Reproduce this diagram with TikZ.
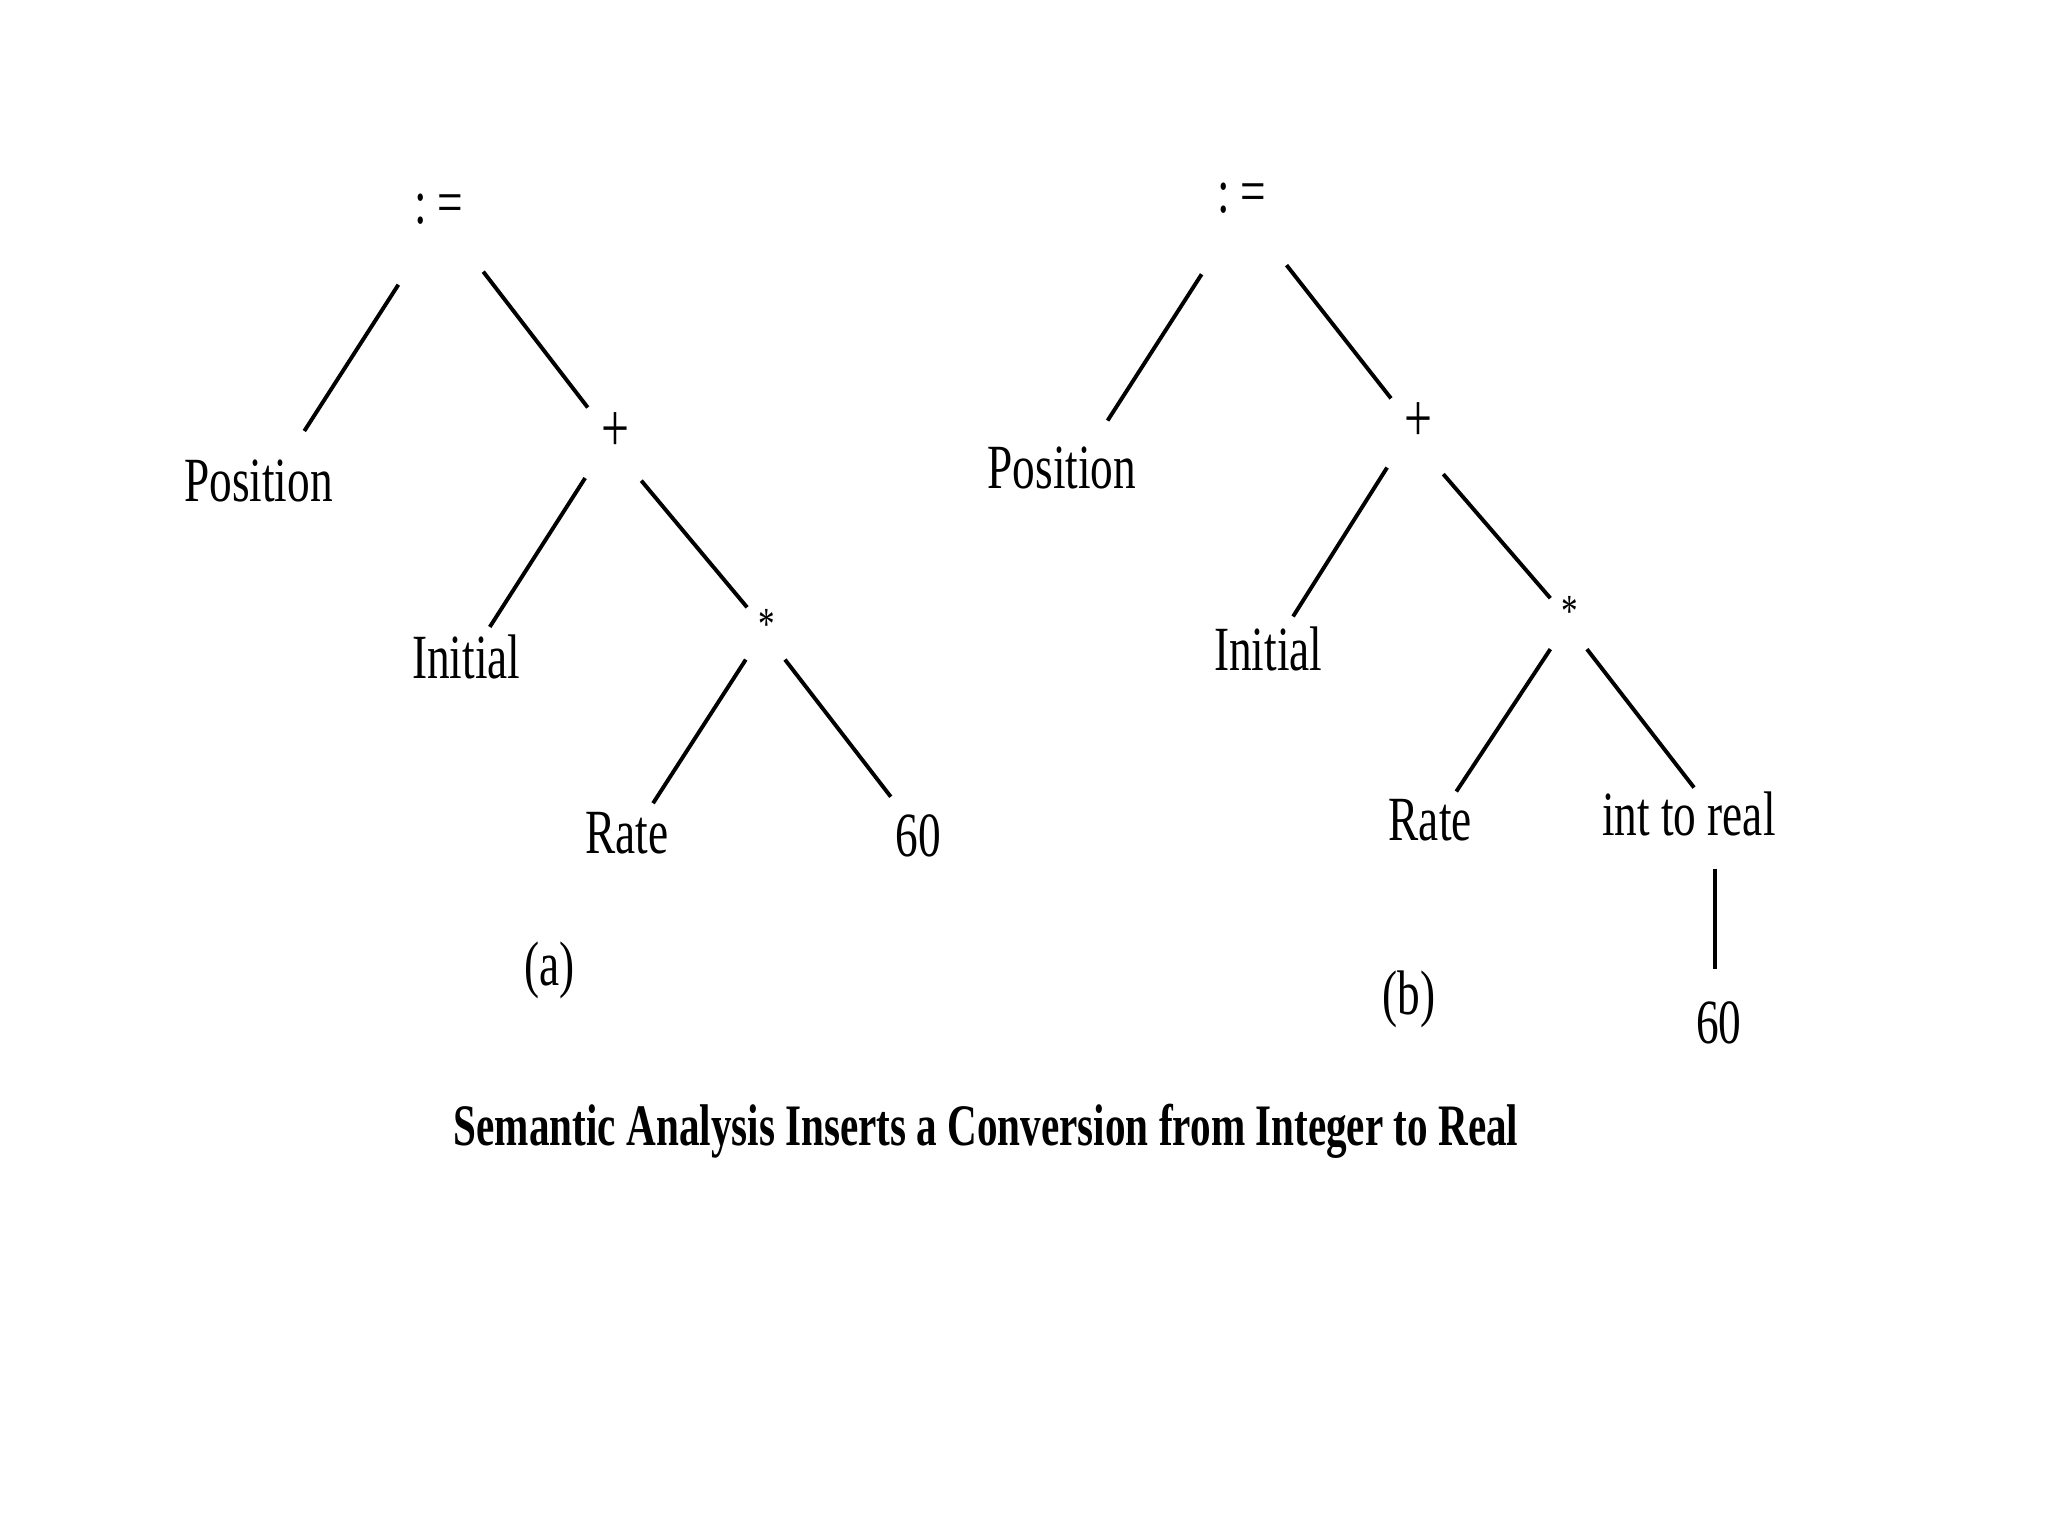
\documentclass[tikz,border=0pt]{standalone}
\usepackage{fontspec}
\usetikzlibrary{calc}
\newfontfamily\lblfont[FakeStretch=0.72]{Liberation Serif}
\newfontfamily\capfont[FakeStretch=0.70]{Liberation Serif}
\begin{document}
\begin{tikzpicture}[x=0.01cm,y=-0.01cm,
  lbl/.style={inner sep=0pt,font=\lblfont\fontsize{13.7}{16}\selectfont},
  oplbl/.style={inner sep=0pt,font=\lblfont\fontsize{15}{16}\selectfont},
  starlbl/.style={inner sep=0pt,font=\lblfont\fontsize{10}{12}\selectfont},
  captext/.style={inner sep=0pt,font=\capfont\bfseries\fontsize{12.8}{15}\selectfont},
  edge/.style={line width=0.85pt}]
\fill[white] (0,0) rectangle (1568,1176);
\useasboundingbox (0,0) rectangle (1568,1176);
% tree (a)
\node[lbl] (aroot) at (336,160) {:\,=};
\node[lbl] (apos)  at (198,368) {Position};
\node[oplbl] (aplus) at (471,331) {+};
\node[lbl] (ainit) at (357,503) {Initial};
\node[starlbl] (astar) at (587,478) {*};
\node[lbl] (arate) at (480,638) {Rate};
\node[lbl] (asixty) at (703,640) {60};
\node[lbl] (alab)  at (421,743) {(a)};
\draw[edge] ($(aroot)+(-31,58)$) -- ($(apos)+(35,-38)$);
\draw[edge] ($(aroot)+(34,48)$) -- ($(aplus)+(-21,-19)$);
\draw[edge] ($(aplus)+(-23,35)$) -- ($(ainit)+(18,-23)$);
\draw[edge] ($(aplus)+(20,37)$) -- ($(astar)+(-15,-13)$);
\draw[edge] ($(astar)+(-16,27)$) -- ($(arate)+(20,-23)$);
\draw[edge] ($(astar)+(14,27)$) -- ($(asixty)+(-21,-30)$);
% tree (b)
\node[lbl] (broot) at (951,152) {:\,=};
\node[lbl] (bpos)  at (813,358) {Position};
\node[oplbl] (bplus) at (1086,323) {+};
\node[lbl] (binit) at (971,497) {Initial};
\node[starlbl] (bstar) at (1202,468) {*};
\node[lbl] (brate) at (1095,628) {Rate};
\node[lbl] (bitr)  at (1293,623) {int to real};
\node[lbl] (bsixty) at (1316,783) {60};
\node[lbl] (blab)  at (1079,765) {(b)};
\draw[edge] ($(broot)+(-31,58)$) -- ($(bpos)+(35,-36)$);
\draw[edge] ($(broot)+(34,51)$) -- ($(bplus)+(-21,-18)$);
\draw[edge] ($(bplus)+(-24,35)$) -- ($(binit)+(19,-25)$);
\draw[edge] ($(bplus)+(19,40)$) -- ($(bstar)+(-15,-10)$);
\draw[edge] ($(bstar)+(-15,29)$) -- ($(brate)+(20,-22)$);
\draw[edge] ($(bstar)+(13,29)$) -- ($(bitr)+(4,-20)$);
\draw[edge] ($(bitr)+(20,42)$) -- ($(bsixty)+(-3,-41)$);
% caption
\node[captext] (caption) at (755,866) {Semantic Analysis Inserts a Conversion from Integer to Real};
\end{tikzpicture}
\end{document}
